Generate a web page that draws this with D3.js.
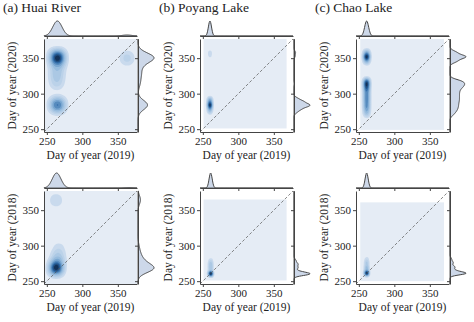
<!DOCTYPE html>
<html>
<head>
<meta charset="utf-8">
<script src="https://cdn.jsdelivr.net/npm/d3@7"></script>
<style>
    body { margin: 0; background: #fff; }
    svg text { font-family: "Liberation Serif", "Times New Roman", serif; fill: #222; }
</style>
</head>
<body>
<svg id="chart"></svg>
<script>
// JOINT KDE PANELS
var titles = ['(a) Huai River', '(b) Poyang Lake', '(c) Chao Lake'];
var yLabels = ['Day of year (2020)', 'Day of year (2018)'];
var xLabel = 'Day of year (2019)';
var tickValues = [250, 300, 350];
var dayDomain = [246, 377];

// estimated samples: [day 2019, day of other year, weight]
var huai2020 = [[265, 351, 7], [265, 339, 1.6], [264, 327, 1.4], [264, 315, 1], [265, 284, 5], [363, 350, 1.1]];
var poyang2020 = [[260, 274, 0.6], [260, 278, 1.3], [260, 282, 2.2], [260, 285, 2.4], [260, 289, 1.8],
    [260, 293, 0.8], [260, 353, 0.25], [260, 358, 0.35], [261, 314, 0.12]];
var chao2020 = [[261, 346, 1.3], [261, 352, 3], [261, 358, 1.2],
    [261, 318, 1.6], [261, 314, 1.8], [261, 310, 1.6], [261, 306, 1.2], [261, 302, 1.1], [261, 298, 1.1],
    [261, 294, 1.1], [261, 290, 1.1], [261, 286, 1], [261, 282, 1], [261, 278, 0.9], [261, 274, 0.7], [261, 270, 0.4]];
var huai2018 = [[263, 268, 8], [265, 278, 2.5], [266, 288, 1.1], [267, 298, 0.5], [263, 364, 1], [366, 366, 0.35]];
var poyang2018 = [[261, 260, 3], [261, 263, 1], [261, 269, 0.8], [261, 274, 0.8], [261, 279, 0.4]];
var chao2018 = [[261, 261, 3], [261, 265, 0.8], [261, 270, 0.9], [261, 276, 0.6], [261, 281, 0.3]];

// kde bandwidth (days) and grid extent [x0, x1, y0, y1] per panel
var bandwidth2020 = [6.5, 2.2, 2.8];
var bandwidth2018 = [6, 2.2, 2.2];
var extent2020 = [[246, 377, 246, 377], [251, 368, 251, 377], [252, 370, 249, 377]];
var extent2018 = [[246, 377, 246, 377], [251, 368, 251, 365], [252, 370, 250, 361]];

var svgWidth = 474,
    svgHeight = 322,
    plotSize = 93,
    colStep = 156,
    rowStep = 152,
    left0 = 44,
    top0 = 39;

var svg = d3.select('#chart')
    .attr('width', svgWidth)
    .attr('height', svgHeight);

var x = d3.scaleLinear().domain(dayDomain).range([0, plotSize]);
var y = d3.scaleLinear().domain(dayDomain).range([plotSize, 0]);
var pxPerDay = plotSize / (dayDomain[1] - dayDomain[0]);

var levels = [0.05, 0.12, 0.2, 0.3, 0.42, 0.55, 0.68, 0.8, 0.92];
var levelColor = d3.scaleLinear()
    .domain([0, 0.35, 0.7, 1])
    .range(['#d3e0f0', '#8db6db', '#2c6aa8', '#0a1d3c']);

var rows = [
    {label: yLabels[0], samples: [huai2020, poyang2020, chao2020], bw: bandwidth2020, ext: extent2020},
    {label: yLabels[1], samples: [huai2018, poyang2018, chao2018], bw: bandwidth2018, ext: extent2018}
];

titles.forEach(function (t, c) {
    svg.append('text')
        .attr('x', left0 + c * colStep - 41)
        .attr('y', 12)
        .style('font-size', '13.5px')
        .text(t);
});

function kde1(pts, idx, bw) {
    return d3.range(dayDomain[0], dayDomain[1] + 0.01, 0.5).map(function (v) {
        return [v, d3.sum(pts, function (p) {
            return p[2] * Math.exp(-0.5 * Math.pow((v - p[idx]) / bw, 2));
        })];
    });
}

function styleAxis(sel) {
    sel.attr('font-family', null).attr('font-size', null);
    sel.selectAll('text').style('font-size', '11px');
    sel.selectAll('path, line').attr('stroke', '#444');
}

rows.forEach(function (row, r) {
    row.samples.forEach(function (pts, c) {
        var id = 'clip' + r + c;
        var bw = row.bw[c];
        var ext = row.ext[c];
        var g = svg.append('g')
            .attr('transform', 'translate(' + (left0 + c * colStep) + ',' + (top0 + r * rowStep) + ')');

        g.append('clipPath').attr('id', id)
            .append('rect')
            .attr('x', x(ext[0]))
            .attr('y', y(ext[3]))
            .attr('width', x(ext[1]) - x(ext[0]))
            .attr('height', y(ext[2]) - y(ext[3]));

        g.append('rect')
            .attr('x', x(ext[0]))
            .attr('y', y(ext[3]))
            .attr('width', x(ext[1]) - x(ext[0]))
            .attr('height', y(ext[2]) - y(ext[3]))
            .attr('fill', '#e5ecf5');

        var density = d3.contourDensity()
            .x(function (d) { return x(d[0]); })
            .y(function (d) { return y(d[1]); })
            .weight(function (d) { return d[2]; })
            .size([plotSize, plotSize])
            .cellSize(1)
            .bandwidth(bw * pxPerDay);

        var maxV = d3.max(density.thresholds(60)(pts).filter(function (d) {
            return d.coordinates.length;
        }), function (d) { return d.value; });

        var contours = density.thresholds(levels.map(function (f) { return f * maxV; }))(pts);

        g.append('g')
            .attr('clip-path', 'url(#' + id + ')')
            .selectAll('path')
            .data(contours)
            .enter()
            .append('path')
            .attr('d', d3.geoPath())
            .attr('fill', function (d, i) { return levelColor(levels[i]); });

        g.append('line')
            .attr('x1', x(dayDomain[0])).attr('y1', y(dayDomain[0]))
            .attr('x2', x(dayDomain[1])).attr('y2', y(dayDomain[1]))
            .attr('stroke', '#555')
            .attr('stroke-width', 0.7)
            .attr('stroke-dasharray', '3,2');

        g.append('g')
            .attr('transform', 'translate(0,' + plotSize + ')')
            .call(d3.axisBottom(x).tickValues(tickValues).tickSize(3).tickSizeOuter(0).tickPadding(2))
            .call(styleAxis);
        g.append('g')
            .call(d3.axisLeft(y).tickValues(tickValues).tickSize(3).tickSizeOuter(0).tickPadding(2))
            .call(styleAxis);

        g.append('text')
            .attr('transform', 'translate(-28,' + plotSize / 2 + ') rotate(-90)')
            .attr('text-anchor', 'middle')
            .style('font-size', '11.5px')
            .text(row.label);
        g.append('text')
            .attr('x', plotSize / 2)
            .attr('y', plotSize + 27)
            .attr('text-anchor', 'middle')
            .style('font-size', '11.5px')
            .text(xLabel);

        // top marginal
        var topData = kde1(pts, 0, bw);
        var mTop = d3.scaleLinear().domain([0, d3.max(topData, function (d) { return d[1]; })]).range([0, -15]);
        var gt = g.append('g').attr('transform', 'translate(0,-3)');
        gt.append('path')
            .datum(topData)
            .attr('fill', 'rgba(76,114,176,0.28)')
            .attr('stroke', '#4d6d9c')
            .attr('stroke-width', 1)
            .attr('d', d3.area()
                .x(function (d) { return x(d[0]); })
                .y0(0)
                .y1(function (d) { return mTop(d[1]); }));
        gt.call(d3.axisBottom(x).tickValues(tickValues).tickFormat('').tickSize(3).tickSizeOuter(0))
            .call(styleAxis);

        // right marginal
        var rightData = kde1(pts, 1, bw);
        var mRight = d3.scaleLinear().domain([0, d3.max(rightData, function (d) { return d[1]; })]).range([0, 16]);
        var gr = g.append('g').attr('transform', 'translate(' + (plotSize + 1) + ',0)');
        gr.append('path')
            .datum(rightData)
            .attr('fill', 'rgba(76,114,176,0.28)')
            .attr('stroke', '#4d6d9c')
            .attr('stroke-width', 1)
            .attr('d', d3.area()
                .y(function (d) { return y(d[0]); })
                .x0(0)
                .x1(function (d) { return mRight(d[1]); }));
        gr.call(d3.axisLeft(y).tickValues(tickValues).tickFormat('').tickSize(3).tickSizeOuter(0))
            .call(styleAxis);
    });
});
</script>
</body>
</html>
